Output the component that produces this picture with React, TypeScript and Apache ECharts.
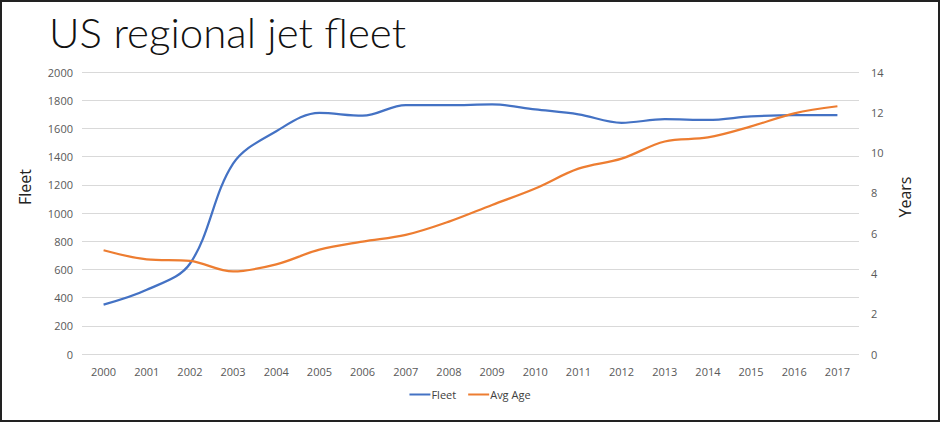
import { useEffect, useRef } from 'react'
import * as echarts from 'echarts'

const YEARS = ['2000', '2001', '2002', '2003', '2004', '2005', '2006', '2007', '2008',
  '2009', '2010', '2011', '2012', '2013', '2014', '2015', '2016', '2017']
const FLEET = [350, 455, 640, 1350, 1580, 1710, 1690, 1765, 1765,
  1770, 1735, 1700, 1640, 1665, 1660, 1685, 1695, 1695]
const AVG_AGE = [5.15, 4.7, 4.62, 4.1, 4.45, 5.18, 5.58, 5.91, 6.57,
  7.4, 8.22, 9.2, 9.7, 10.55, 10.75, 11.3, 11.95, 12.3]

const LABEL = { color: '#595959', fontSize: 11, fontFamily: 'Open Sans' }
const GRID_LINE = { lineStyle: { color: '#d9d9d9', width: 1 } }
const AXIS_TITLE = { fontFamily: 'Open Sans', fontSize: 16, fill: '#222', align: 'center', verticalAlign: 'middle' }

export default function App() {
  const elRef = useRef<HTMLDivElement>(null)

  useEffect(() => {
    document.body.style.margin = '0'
    if (!elRef.current) return
    const chart = echarts.init(elRef.current, null, { renderer: 'svg' })
    chart.setOption({
      animation: false,
      backgroundColor: '#fff',
      title: {
        text: 'US regional jet fleet',
        left: 42,
        top: 4,
        textStyle: { fontFamily: 'Lato', fontWeight: 300, fontSize: 42, color: '#111' },
      },
      // axis titles sit above the plot's centre in the original, so place them by hand
      graphic: [
        { type: 'text', x: 23, y: 185, rotation: Math.PI / 2, style: { text: 'Fleet', ...AXIS_TITLE } },
        { type: 'text', x: 903, y: 195, rotation: Math.PI / 2, style: { text: 'Years', ...AXIS_TITLE } },
      ],
      legend: {
        bottom: 15,
        left: 'center',
        icon: 'rect',
        itemWidth: 21,
        itemHeight: 2,
        itemGap: 12,
        textStyle: { ...LABEL, color: '#404040', padding: [0, 0, 0, -4] },
        data: ['Fleet', 'Avg Age'],
      },
      grid: { left: 80, right: 79, top: 70, bottom: 66, containLabel: false },
      xAxis: {
        type: 'category',
        data: YEARS,
        boundaryGap: true,
        axisLine: { show: false },
        axisTick: { show: false },
        axisLabel: { ...LABEL, margin: 12 },
      },
      yAxis: [
        {
          type: 'value',
          min: 0,
          max: 2000,
          interval: 200,
          axisLabel: { ...LABEL, margin: 9, formatter: (v: number) => String(v) },
          splitLine: GRID_LINE,
          axisLine: { show: false },
        },
        {
          type: 'value',
          min: 0,
          max: 14,
          interval: 2,
          axisLabel: { ...LABEL, margin: 12, formatter: (v: number) => String(v) },
          splitLine: { show: false },
          axisLine: { show: false },
        },
      ],
      series: [
        {
          name: 'Fleet',
          type: 'line',
          data: FLEET,
          smooth: 0.35,
          showSymbol: false,
          lineStyle: { color: '#4472C4', width: 2.25 },
          itemStyle: { color: '#4472C4' },
        },
        {
          name: 'Avg Age',
          type: 'line',
          yAxisIndex: 1,
          data: AVG_AGE,
          smooth: 0.35,
          showSymbol: false,
          lineStyle: { color: '#ED7D31', width: 2.25 },
          itemStyle: { color: '#ED7D31' },
        },
      ],
    })
    return () => chart.dispose()
  }, [])

  return (
    <div
      ref={elRef}
      style={{ width: 940, height: 422, boxSizing: 'border-box', border: '2px solid #222' }}
    />
  )
}
